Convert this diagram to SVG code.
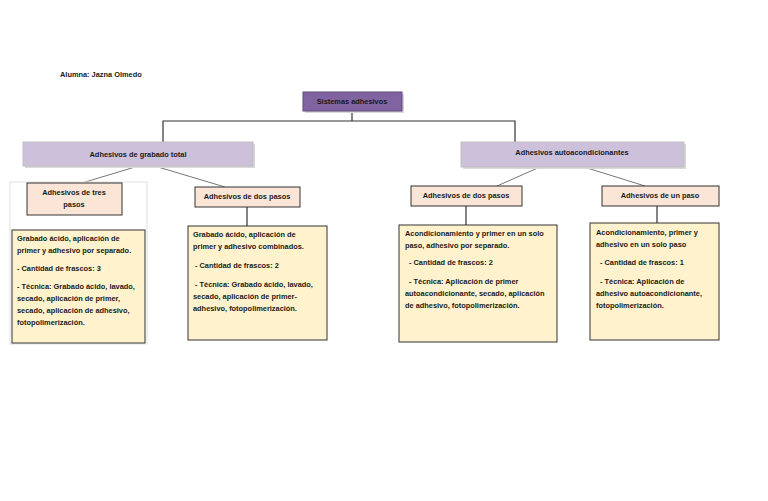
<svg xmlns="http://www.w3.org/2000/svg" width="768" height="501" viewBox="0 0 768 501">
<style>
text{font-family:"Liberation Sans",Arial,sans-serif;font-size:7.4px;font-weight:bold;fill:#1a1a1a}
.c{text-anchor:middle}
.lv{fill:#ccc0da;stroke:#bfbfbf;stroke-width:1}
.sub{fill:#fbe5d6;stroke:#333;stroke-width:1}
.det{fill:#fff2cc;stroke:#333;stroke-width:1}
.ln{stroke:#333;stroke-width:1.2;fill:none}
.gl{stroke:#777;stroke-width:1;fill:none}
</style>
<rect width="768" height="501" fill="#fff"/>
<text x="60" y="77">Alumna: Jazna Olmedo</text>
<g id="connectors">
<polyline class="ln" points="163,142 163,121 515,121 515,142"/>
<line class="ln" x1="352" y1="111" x2="352" y2="121"/>
<line class="gl" x1="135" y1="167" x2="82" y2="183"/>
<line class="gl" x1="158" y1="167" x2="225" y2="187"/>
<line class="gl" x1="540" y1="167" x2="497" y2="186"/>
<line class="gl" x1="584" y1="167" x2="645" y2="186"/>
<line class="ln" x1="78" y1="215" x2="78" y2="230"/>
<line class="ln" x1="247" y1="207" x2="247" y2="226"/>
<line class="ln" x1="466" y1="206" x2="466" y2="225"/>
<line class="ln" x1="657" y1="206" x2="657" y2="223"/>
</g>
<g id="root">
<rect x="305" y="94" width="99" height="19" fill="#d9d9d9"/>
<rect x="303" y="92" width="99" height="19" fill="#8064a2" stroke="#5f497a"/>
<text class="c" x="352" y="104">Sistemas adhesivos</text>
</g>
<g id="grabado-total">
<rect x="25" y="144" width="230" height="24" fill="#d9d9d9"/>
<rect class="lv" x="23" y="142" width="230" height="24"/>
<text class="c" x="138" y="157">Adhesivos de grabado total</text>
</g>
<g id="autoacond">
<rect x="463" y="144" width="223" height="25" fill="#d9d9d9"/>
<rect class="lv" x="461" y="142" width="223" height="25"/>
<text class="c" x="572" y="155">Adhesivos autoacondicionantes</text>
</g>
<g id="tres-pasos">
<rect x="10" y="182" width="137" height="162" fill="#fff" stroke="#e0e0e0"/>
<rect class="sub" x="27" y="183" width="95" height="32"/>
<text class="c" x="74" y="195">Adhesivos de tres</text>
<text class="c" x="74" y="207">pasos</text>
</g>
<g id="tres-pasos-det">
<rect class="det" x="12" y="230" width="133" height="113"/>
<text x="17" y="241">Grabado ácido, aplicación de</text>
<text x="17" y="253">primer y adhesivo por separado.</text>
<text x="17" y="271">- Cantidad de frascos: 3</text>
<text x="17" y="289">- Técnica: Grabado ácido, lavado,</text>
<text x="17" y="301">secado, aplicación de primer,</text>
<text x="17" y="313">secado, aplicación de adhesivo,</text>
<text x="17" y="325">fotopolimerización.</text>
</g>
<g id="dos-pasos-gt">
<rect class="sub" x="195" y="187" width="105" height="20"/>
<text class="c" x="247" y="199">Adhesivos de dos pasos</text>
</g>
<g id="dos-pasos-gt-det">
<rect class="det" x="188" y="226" width="139" height="114"/>
<text x="193" y="237">Grabado ácido, aplicación de</text>
<text x="193" y="249">primer y adhesivo combinados.</text>
<text x="195" y="268">- Cantidad de frascos: 2</text>
<text x="195" y="287">- Técnica: Grabado ácido, lavado,</text>
<text x="193" y="299">secado, aplicación de primer-</text>
<text x="193" y="311">adhesivo, fotopolimerización.</text>
</g>
<g id="dos-pasos-aa">
<rect class="sub" x="411" y="186" width="111" height="20"/>
<text class="c" x="466" y="198">Adhesivos de dos pasos</text>
</g>
<g id="dos-pasos-aa-det">
<rect class="det" x="399" y="225" width="158" height="117"/>
<text x="405" y="236">Acondicionamiento y primer en un solo</text>
<text x="405" y="248">paso, adhesivo por separado.</text>
<text x="409" y="265">- Cantidad de frascos: 2</text>
<text x="409" y="284">- Técnica: Aplicación de primer</text>
<text x="405" y="296">autoacondicionante, secado, aplicación</text>
<text x="405" y="308">de adhesivo, fotopolimerización.</text>
</g>
<g id="un-paso">
<rect class="sub" x="602" y="186" width="117" height="20"/>
<text class="c" x="660" y="198">Adhesivos de un paso</text>
</g>
<g id="un-paso-det">
<rect class="det" x="590" y="223" width="129" height="117"/>
<text x="596" y="235">Acondicionamiento, primer y</text>
<text x="596" y="247">adhesivo en un solo paso</text>
<text x="600" y="265">- Cantidad de frascos: 1</text>
<text x="600" y="284">- Técnica: Aplicación de</text>
<text x="596" y="296">adhesivo autoacondicionante,</text>
<text x="596" y="308">fotopolimerización.</text>
</g>
</svg>
